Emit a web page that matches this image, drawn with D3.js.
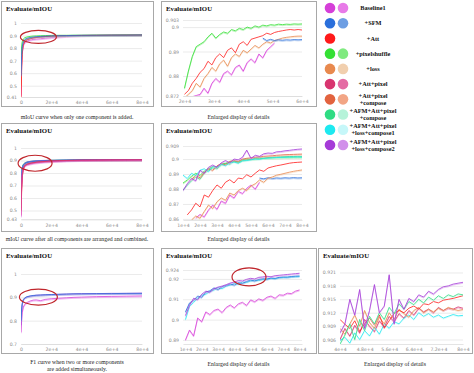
<!DOCTYPE html>
<html><head><meta charset="utf-8">
<script src="https://cdn.jsdelivr.net/npm/d3@7"></script>
<style>
html,body{margin:0;padding:0;background:#fff;}
svg{display:block;}
</style></head>
<body>
<svg id="chart" width="474" height="373"></svg>
<script>
// ---------------- DATA ----------------
const legendNames = [["Baseline1"],["+SFM"],["+Att"],["+pixelshuffle"],["+loss"],["+Att+pixel"],["+Att+pixel","+compose"],["+AFM+Att+pixel","+compose"],["+AFM+Att+pixel","+loss+compose1"],["+AFM+Att+pixel","+loss+compose2"]];
const captions = [["mIoU curve when only one component is added."],["Enlarged display of details"],["mIoU curve after all components are arranged and combined."],["Enlarged display of details"],["F1 curve when two or more components","are added simultaneously."],["Enlarged display of details"],["Enlarged display of details"]];
const panelTitle = "Evaluate/mIOU";

// full-view x steps
const stepsFull = [0,400,800,1500,2500,4000,6000,8000,10000,13000,16000,20000,25000,30000,35000,40000,50000,60000,70000,80000];
const xTicksFull = [0,20000,40000,60000,80000];
const xLabelsFull = ["0","2e+4","4e+4","6e+4","8e+4"];

// Panel A: one component added (full view)
const aBaseline = [0.42,0.66,0.77,0.82,0.845,0.856,0.864,0.869,0.872,0.875,0.879,0.884,0.889,0.893,0.896,0.898,0.9,0.901,0.902,0.902];
const aSFM      = [0.58,0.74,0.81,0.85,0.868,0.878,0.884,0.888,0.891,0.893,0.895,0.897,0.899,0.9,0.901,0.902,0.903,0.904,0.904,0.905];
const aAtt      = [0.36,0.61,0.75,0.825,0.852,0.866,0.874,0.88,0.884,0.888,0.892,0.895,0.898,0.899,0.9,0.901,0.902,0.903,0.903,0.904];
const aPixel    = [0.74,0.81,0.85,0.872,0.883,0.889,0.893,0.896,0.897,0.899,0.9,0.901,0.902,0.902,0.903,0.903,0.904,0.904,0.905,0.905];
const aLoss     = [0.5,0.69,0.79,0.84,0.862,0.872,0.878,0.883,0.886,0.889,0.891,0.893,0.896,0.898,0.899,0.9,0.901,0.902,0.903,0.903];
const aYTicks = [1,0.9,0.8,0.7,0.6,0.5,0.41];
const aYLabels = ["1","0.9","0.8","0.7","0.6","0.5","0.41"];

// Panel B: enlarged (x from 20000, step 1333.33)
const bStart = 20000, bStep = 4000/3;
const bPixel = [0.875,0.882,0.888,0.892,0.893,0.894,0.896,0.8975,0.8955,0.897,0.898,0.8975,0.899,0.8985,0.8995,0.899,0.9,0.8995,0.9005,0.9,0.9008,0.9005,0.901,0.9008,0.9012,0.901,0.9012,0.9011,0.9013,0.9012,0.9013];
const bAtt   = [0.8725,0.874,0.877,0.879,0.8815,0.883,0.886,0.8845,0.8875,0.889,0.8875,0.8905,0.8915,0.8895,0.893,0.894,0.8925,0.895,0.8955,0.896,0.8965,0.8975,0.897,0.8978,0.8982,0.8985,0.8988,0.899,0.8988,0.899,0.8988];
const bLoss  = [0.871,0.8725,0.874,0.877,0.8755,0.879,0.881,0.8835,0.882,0.885,0.8865,0.884,0.8875,0.889,0.888,0.8905,0.8895,0.891,0.8925,0.8915,0.893,0.894,0.8935,0.8945,0.895,0.8955,0.8958,0.896,0.8962,0.8963,0.8963];
const bBaseline = [0.8715,0.872,0.8725,0.875,0.873,0.877,0.879,0.8775,0.881,0.882,0.8805,0.8835,0.8845,0.882,0.8855,0.887,0.8855,0.889,0.8875,0.8905,0.892,0.8935];
const bBaselineFrom = 2;
const bSFM = [0.8955,0.8945,0.895,0.8945,0.8948,0.8946,0.8948,0.8947,0.8949,0.8948,0.8949];
const bSFMFrom = 20;
const bYTicks = [0.9029,0.9,0.89,0.88,0.8718];
const bYLabels = ["0.903","0.9","0.89","0.88","0.872"];
const bXTicks = [20000,30000,40000,50000,60000];
const bXLabels = ["2e+4","3e+4","4e+4","5e+4","6e+4"];

// Panel C: all components (full view)
const cBaseline = [0.45,0.7,0.79,0.835,0.855,0.866,0.872,0.877,0.881,0.885,0.888,0.891,0.894,0.897,0.899,0.9,0.902,0.903,0.903,0.904];
const cSFM      = [0.6,0.76,0.83,0.862,0.875,0.884,0.889,0.892,0.894,0.896,0.898,0.899,0.901,0.902,0.903,0.904,0.905,0.905,0.906,0.906];
const cAtt      = [0.46,0.64,0.76,0.83,0.855,0.868,0.876,0.881,0.885,0.889,0.892,0.895,0.898,0.9,0.901,0.902,0.903,0.904,0.904,0.905];
const cPixel    = [0.7,0.8,0.845,0.87,0.881,0.888,0.892,0.895,0.897,0.899,0.9,0.901,0.902,0.903,0.904,0.904,0.905,0.905,0.906,0.906];
const cLoss     = [0.55,0.72,0.8,0.845,0.865,0.876,0.883,0.887,0.89,0.893,0.895,0.897,0.899,0.9,0.901,0.902,0.903,0.904,0.904,0.905];
const cAttPix   = [0.5,0.68,0.78,0.836,0.86,0.871,0.878,0.883,0.887,0.89,0.893,0.896,0.898,0.9,0.901,0.902,0.903,0.904,0.905,0.905];
const cAttPixC  = [0.52,0.71,0.8,0.848,0.868,0.878,0.885,0.889,0.892,0.895,0.897,0.899,0.9,0.901,0.902,0.903,0.904,0.905,0.905,0.906];
const cAfm      = [0.62,0.77,0.83,0.86,0.876,0.885,0.89,0.893,0.896,0.898,0.9,0.901,0.902,0.903,0.904,0.904,0.905,0.906,0.906,0.906];
const cComp1    = [0.66,0.79,0.84,0.866,0.879,0.887,0.892,0.895,0.897,0.899,0.9,0.901,0.902,0.903,0.904,0.905,0.905,0.906,0.906,0.907];
const cComp2    = [0.6,0.77,0.835,0.865,0.879,0.888,0.893,0.896,0.898,0.9,0.901,0.902,0.903,0.904,0.905,0.906,0.906,0.907,0.907,0.907];
const cYTicks = [1,0.9,0.8,0.7,0.6,0.5,0.43];
const cYLabels = ["1","0.9","0.8","0.7","0.6","0.5","0.43"];

// Panel D: enlarged (x from 10000, step 2500)
const dStart = 10000, dStep = 2500;
const dComp2 = [0.879,0.8835,0.887,0.8855,0.8925,0.8905,0.8945,0.896,0.8945,0.8975,0.899,0.8975,0.9,0.8995,0.9012,0.906,0.9005,0.9025,0.9018,0.9035,0.904,0.9038,0.9048,0.905,0.9055,0.9058,0.9062,0.9065,0.9067];
const dComp1 = [0.8893,0.887,0.8905,0.889,0.8925,0.8935,0.8915,0.895,0.8945,0.8965,0.8955,0.8975,0.898,0.8972,0.8988,0.899,0.8995,0.9,0.8998,0.9005,0.9006,0.9008,0.901,0.9011,0.9012,0.9013,0.9013,0.9014,0.9013];
const dAfm   = [0.8793,0.8825,0.8855,0.888,0.8865,0.8905,0.8925,0.894,0.8935,0.896,0.897,0.8965,0.8985,0.898,0.8995,0.9,0.8998,0.9005,0.9008,0.9006,0.901,0.9012,0.9014,0.9015,0.9016,0.9017,0.9017,0.9018,0.9018];
const dPixel = [0.884,0.886,0.8885,0.8905,0.889,0.892,0.8935,0.895,0.8945,0.8965,0.8972,0.898,0.8985,0.8978,0.899,0.8995,0.8998,0.9,0.9003,0.9004,0.9006,0.9007,0.9008,0.9009,0.901,0.901,0.9011,0.9011,0.9012];
const dAttPixC = [0.8865,0.889,0.8875,0.891,0.8935,0.8925,0.8955,0.897,0.8962,0.8985,0.899,0.8985,0.9,0.9005,0.9008,0.9012,0.9015,0.9018,0.902,0.9022,0.9025,0.9027,0.9029,0.903,0.9031,0.9032,0.9033];
const dAttPixCFrom = 2;
const dAtt = [0.8627,0.866,0.8705,0.868,0.876,0.8745,0.879,0.8827,0.8805,0.8845,0.8862,0.884,0.8873,0.8868,0.8895,0.888,0.8905,0.8927,0.8918,0.894,0.8948,0.8955,0.896,0.8966,0.8972,0.8976,0.8978,0.898];
const dAttFrom = 1;
const dLoss = [0.8593,0.862,0.8605,0.865,0.8693,0.867,0.8715,0.874,0.8725,0.8773,0.876,0.879,0.8805,0.879,0.882,0.8835,0.886,0.8845,0.8872,0.888,0.8892,0.8898,0.8905,0.8912,0.8918,0.8923,0.8927];
const dLossFrom = 2;
const dBaseline = [0.8607,0.863,0.8615,0.866,0.8693,0.8665,0.872,0.8705,0.876,0.874,0.8785,0.877,0.8805,0.8827,0.88,0.8845];
const dBaselineFrom = 3;
const dSFM = [0.8873,0.8868,0.8875,0.887,0.8874,0.8872,0.8875,0.8873,0.8876,0.8874,0.8875];
const dSFMFrom = 18;
const dYTicks = [0.9087,0.9,0.89,0.88,0.87,0.86];
const dYLabels = ["0.909","0.9","0.89","0.88","0.87","0.86"];
const xTicks8 = [10000,20000,30000,40000,50000,60000,70000,80000];
const xLabels8 = ["1e+4","2e+4","3e+4","4e+4","5e+4","6e+4","7e+4","8e+4"];

// Panel E: F1 two or more components (full view)
const eComp1    = [0.8,0.85,0.875,0.89,0.898,0.903,0.906,0.908,0.909,0.91,0.911,0.912,0.913,0.914,0.915,0.915,0.916,0.916,0.917,0.917];
const eComp2    = [0.78,0.84,0.868,0.888,0.897,0.902,0.905,0.907,0.909,0.91,0.911,0.912,0.913,0.914,0.915,0.916,0.916,0.917,0.917,0.918];
const eBaseline = [0.75,0.8,0.835,0.858,0.87,0.878,0.884,0.888,0.889,0.886,0.891,0.894,0.896,0.898,0.9,0.901,0.903,0.904,0.905,0.906];
const eYTicks = [1,0.9,0.8,0.7];
const eYLabels = ["1","0.9","0.8","0.7"];

// Panel F: enlarged (x from 10000, step 2500)
const fSFM  = [0.9038,0.9082,0.9095,0.9116,0.911,0.9136,0.9142,0.9156,0.9148,0.9162,0.9168,0.9175,0.917,0.9182,0.9178,0.9188,0.9195,0.919,0.9198,0.9201,0.9199,0.9205,0.9203,0.9208,0.921,0.9209,0.9212,0.9214,0.9215];
const fComp1 = [0.9,0.9065,0.9085,0.9105,0.912,0.9125,0.9138,0.9145,0.9158,0.9152,0.9165,0.917,0.9178,0.9173,0.9185,0.9183,0.919,0.9194,0.9192,0.9198,0.92,0.9203,0.9201,0.9206,0.9207,0.9209,0.921,0.9211,0.9212];
const fComp2 = [0.902,0.907,0.9105,0.9098,0.9125,0.914,0.9135,0.9152,0.916,0.9165,0.9172,0.918,0.9185,0.9192,0.919,0.9198,0.9203,0.92,0.9208,0.921,0.9213,0.9211,0.9216,0.9218,0.922,0.9222,0.9224,0.9226,0.9228];
const fBaseline = [0.89,0.8949,0.892,0.9008,0.899,0.9038,0.9025,0.9045,0.9052,0.9035,0.906,0.9072,0.9058,0.9078,0.9085,0.907,0.9097,0.9088,0.9102,0.9095,0.911,0.9116,0.9105,0.9122,0.912,0.913,0.9128,0.914,0.9146];
const fYTicks = [0.9244,0.92,0.91,0.9,0.89];
const fYLabels = ["0.924","0.92","0.91","0.9","0.89"];

// Panel G: enlarged (x from 40000, step 1600)
const gStart = 40000, gStep = 1600;
const gComp2 = [0.9075,0.9095,0.915,0.9115,0.9172,0.9085,0.9125,0.9183,0.912,0.9135,0.9205,0.9095,0.915,0.9128,0.9152,0.9145,0.916,0.9155,0.9168,0.9162,0.9172,0.9178,0.918,0.9184,0.9186,0.9188];
const gAfm   = [0.905,0.907,0.9095,0.906,0.9105,0.908,0.9112,0.9095,0.912,0.9105,0.9132,0.9118,0.914,0.9128,0.9145,0.9138,0.915,0.9142,0.9155,0.9148,0.9158,0.9152,0.916,0.9156,0.9162,0.916];
const gAtt   = [0.9105,0.9094,0.9085,0.9102,0.9078,0.9095,0.9108,0.9092,0.9115,0.9085,0.9102,0.9118,0.9125,0.912,0.913,0.9135,0.9128,0.914,0.9138,0.9145,0.9142,0.9148,0.915,0.9152,0.9155,0.9158];
const gLoss  = [0.9085,0.9072,0.9095,0.9115,0.909,0.9125,0.9098,0.9085,0.911,0.9095,0.912,0.9105,0.9128,0.9118,0.911,0.9125,0.9132,0.912,0.9128,0.9122,0.913,0.9125,0.9132,0.9128,0.9125,0.9127];
const gComp1 = [0.9058,0.9065,0.9052,0.9075,0.906,0.908,0.9068,0.9088,0.9072,0.9095,0.9085,0.91,0.9095,0.9108,0.9115,0.9105,0.912,0.9112,0.9118,0.911,0.9115,0.9108,0.9112,0.9116,0.9113,0.9114];
const gAttPix = [0.906,0.9085,0.9068,0.9092,0.9075,0.9105,0.909,0.9078,0.9102,0.9088,0.9112,0.91,0.9118,0.9108,0.9125,0.9115,0.913,0.9122,0.9128,0.912,0.9132,0.9125,0.913,0.9128,0.9133,0.913];
const gYTicks = [0.921,0.918,0.915,0.912,0.909,0.906];
const gYLabels = ["0.921","0.918","0.915","0.912","0.909","0.906"];
const gXTicks = [40000,48000,56000,64000,72000,80000];
const gXLabels = ["4e+4","4.8e+4","5.6e+4","6.4e+4","7.2e+4","8e+4"];

// ---------------- STYLE ----------------
const COL = {
  base:["#d53fd8","#e87ae8"], sfm:["#2a6fdb","#6d9ee3"], att:["#ff1a1a",null],
  pix:["#34e034","#80ea80"], loss:["#e8894e","#f1cfae"], attpix:["#d8356f","#e46ba3"],
  attpixc:["#e2633f","#f2a585"], afm:["#2fdc83","#b6f3d9"], c1:["#1de9f0","#c6f7f9"], c2:["#a53bd8","#d190ea"]
};
const legendKeys = ["base","sfm","att","pix","loss","attpix","attpixc","afm","c1","c2"];

const svg = d3.select("#chart");
const SERIF = "'Liberation Serif','Times New Roman',serif";
const SANS = "'DejaVu Sans',sans-serif";

function fullSeries(vals){ return vals.map((v,i)=>({x:stepsFull[i], y:v})); }
function regSeries(vals, start, step, from){ from = from||0; return vals.map((v,i)=>({x:start+(from+i)*step, y:v})); }

let clipId = 0;
function drawPanel(cfg){
  const g = svg.append("g");
  const b = cfg.box;
  g.append("rect").attr("x",b.x+0.5).attr("y",b.y+0.5).attr("width",b.w).attr("height",b.h)
    .attr("fill","#fff").attr("stroke","#a8a8a8").attr("stroke-width",1);
  g.append("text").attr("x",b.x+5).attr("y",b.y+10).text(panelTitle)
    .attr("font-family",SERIF).attr("font-weight","bold").attr("font-size",6.8).attr("fill","#111");
  const x = d3.scaleLinear().domain(cfg.xDomain).range([cfg.px[0],cfg.px[1]]);
  const y = d3.scaleLinear().domain(cfg.yDomain).range([cfg.py[1],cfg.py[0]]);
  const w = cfg.px[1]-cfg.px[0];
  const ya = g.append("g").attr("transform",`translate(${cfg.px[0]},0)`)
    .call(d3.axisLeft(y).tickValues(cfg.yTicks).tickFormat((d,i)=>cfg.yLabels[i]).tickSize(-w).tickPadding(4));
  ya.select(".domain").remove();
  ya.selectAll("line").attr("stroke","#e3e3e3").attr("stroke-width",0.7);
  ya.selectAll("text").attr("font-family",SANS).attr("font-size",4.6).attr("fill","#8a8a8a");
  const xa = g.append("g").attr("transform",`translate(0,${cfg.py[1]})`)
    .call(d3.axisBottom(x).tickValues(cfg.xTicks).tickFormat((d,i)=>cfg.xLabels[i]).tickSize(0).tickPadding(4));
  xa.select(".domain").attr("stroke","#d8d8d8").attr("stroke-width",0.7);
  xa.selectAll("text").attr("font-family",SANS).attr("font-size",4.6).attr("fill","#8a8a8a");
  const id = "clip"+(clipId++);
  g.append("clipPath").attr("id",id).append("rect")
    .attr("x",cfg.px[0]).attr("y",cfg.py[0]-3).attr("width",w+2).attr("height",cfg.py[1]-cfg.py[0]+3);
  const lg = g.append("g").attr("clip-path",`url(#${id})`);
  const line = d3.line().x(d=>x(d.x)).y(d=>y(d.y));
  cfg.series.forEach(s=>{
    const c = COL[s.key];
    if(c[1]) lg.append("path").datum(s.data).attr("d",line).attr("fill","none")
      .attr("stroke",c[1]).attr("stroke-width",1.0).attr("stroke-opacity",0.5).attr("transform","translate(0,1)");
    lg.append("path").datum(s.data).attr("d",line).attr("fill","none")
      .attr("stroke",c[0]).attr("stroke-width",s.w||0.8).attr("stroke-linejoin","round");
  });
  if(cfg.ellipse){
    const e = cfg.ellipse;
    g.append("ellipse").attr("cx",x(e.x)).attr("cy",y(e.y)).attr("rx",e.rx).attr("ry",e.ry)
      .attr("fill","none").attr("stroke","#c0262c").attr("stroke-width",1.2);
  }
  const cap = cfg.caption;
  cap.lines.forEach((t,i)=>{
    g.append("text").attr("x",b.x+b.w/2).attr("y",cap.y+i*7).attr("text-anchor","middle").text(t)
      .attr("font-family",SERIF).attr("font-size",5.8).attr("fill","#222");
  });
}

const boxA={x:1,y:1,w:152,h:105}, boxB={x:161,y:1,w:155,h:105};
const boxC={x:1,y:123,w:152,h:108}, boxD={x:161,y:123,w:155,h:108};
const boxE={x:1,y:248,w:152,h:105}, boxF={x:161,y:248,w:155,h:105}, boxG={x:318,y:248,w:154,h:105};

drawPanel({box:boxA, px:[21,142], py:[23,97], xDomain:[0,80000], yDomain:[0.41,1.0],
  yTicks:aYTicks, yLabels:aYLabels, xTicks:xTicksFull, xLabels:xLabelsFull,
  series:[{key:"base",data:fullSeries(aBaseline)},{key:"loss",data:fullSeries(aLoss)},{key:"pix",data:fullSeries(aPixel)},
          {key:"att",data:fullSeries(aAtt)},{key:"sfm",data:fullSeries(aSFM)}],
  ellipse:{x:11500,y:0.889,rx:18,ry:6.5}, caption:{lines:captions[0],y:119}});

drawPanel({box:boxB, px:[183,302], py:[20,96], xDomain:[19500,60000], yDomain:[0.8718,0.9029],
  yTicks:bYTicks, yLabels:bYLabels, xTicks:bXTicks, xLabels:bXLabels,
  series:[{key:"base",data:regSeries(bBaseline,bStart,bStep,bBaselineFrom)},{key:"loss",data:regSeries(bLoss,bStart,bStep)},
          {key:"att",data:regSeries(bAtt,bStart,bStep)},{key:"sfm",data:regSeries(bSFM,bStart,bStep,bSFMFrom)},
          {key:"pix",data:regSeries(bPixel,bStart,bStep)}],
  caption:{lines:captions[1],y:119}});

drawPanel({box:boxC, px:[21,142], py:[148,219.25], xDomain:[0,80000], yDomain:[0.43,1.0],
  yTicks:cYTicks, yLabels:cYLabels, xTicks:xTicksFull, xLabels:xLabelsFull,
  series:[{key:"pix",data:fullSeries(cPixel)},{key:"loss",data:fullSeries(cLoss)},{key:"afm",data:fullSeries(cAfm)},
          {key:"c1",data:fullSeries(cComp1)},{key:"attpixc",data:fullSeries(cAttPixC)},{key:"c2",data:fullSeries(cComp2)},
          {key:"sfm",data:fullSeries(cSFM)},{key:"att",data:fullSeries(cAtt)},{key:"base",data:fullSeries(cBaseline)},
          {key:"attpix",data:fullSeries(cAttPix)}],
  ellipse:{x:9300,y:0.878,rx:17,ry:8}, caption:{lines:captions[2],y:241}});

drawPanel({box:boxD, px:[183,302], py:[146,220], xDomain:[10000,80000], yDomain:[0.8593,0.9087],
  yTicks:dYTicks, yLabels:dYLabels, xTicks:xTicks8, xLabels:xLabels8,
  series:[{key:"base",data:regSeries(dBaseline,dStart,dStep,dBaselineFrom)},{key:"sfm",data:regSeries(dSFM,dStart,dStep,dSFMFrom)},
          {key:"loss",data:regSeries(dLoss,dStart,dStep,dLossFrom)},{key:"att",data:regSeries(dAtt,dStart,dStep,dAttFrom)},
          {key:"pix",data:regSeries(dPixel,dStart,dStep)},{key:"afm",data:regSeries(dAfm,dStart,dStep)},
          {key:"attpixc",data:regSeries(dAttPixC,dStart,dStep,dAttPixCFrom)},{key:"c1",data:regSeries(dComp1,dStart,dStep)},
          {key:"c2",data:regSeries(dComp2,dStart,dStep)}],
  caption:{lines:captions[3],y:241}});

drawPanel({box:boxE, px:[21,142], py:[274,344], xDomain:[0,80000], yDomain:[0.7,1.0],
  yTicks:eYTicks, yLabels:eYLabels, xTicks:xTicksFull, xLabels:xLabelsFull,
  series:[{key:"base",data:fullSeries(eBaseline)},{key:"c2",data:fullSeries(eComp2)},{key:"sfm",data:fullSeries(eComp1)}],
  ellipse:{x:11500,y:0.901,rx:19,ry:8}, caption:{lines:captions[4],y:364}});

drawPanel({box:boxF, px:[183,302], py:[270,344], xDomain:[8500,81500], yDomain:[0.888,0.9244],
  yTicks:fYTicks, yLabels:fYLabels, xTicks:xTicks8, xLabels:xLabels8,
  series:[{key:"base",data:regSeries(fBaseline,dStart,dStep)},{key:"c1",data:regSeries(fComp1,dStart,dStep)},
          {key:"sfm",data:regSeries(fSFM,dStart,dStep)},{key:"c2",data:regSeries(fComp2,dStart,dStep)}],
  ellipse:{x:49000,y:0.921,rx:17,ry:9}, caption:{lines:captions[5],y:366}});

drawPanel({box:boxG, px:[340,463], py:[268,344], xDomain:[40000,80000], yDomain:[0.905,0.922],
  yTicks:gYTicks, yLabels:gYLabels, xTicks:gXTicks, xLabels:gXLabels,
  series:[{key:"attpix",data:regSeries(gAttPix,gStart,gStep)},{key:"c1",data:regSeries(gComp1,gStart,gStep)},
          {key:"loss",data:regSeries(gLoss,gStart,gStep)},{key:"att",data:regSeries(gAtt,gStart,gStep)},
          {key:"afm",data:regSeries(gAfm,gStart,gStep)},{key:"c2",data:regSeries(gComp2,gStart,gStep)}],
  caption:{lines:captions[6],y:366}});

// ---------------- LEGEND ----------------
const legY = d3.scalePoint().domain(d3.range(legendNames.length)).range([8,145]);
const lg = svg.append("g");
legendNames.forEach((lines,i)=>{
  const cy = legY(i), c = COL[legendKeys[i]];
  lg.append("circle").attr("cx",330).attr("cy",cy).attr("r",5.3).attr("fill",c[0]);
  if(c[1]) lg.append("circle").attr("cx",343).attr("cy",cy).attr("r",5.3).attr("fill",c[1]);
  lines.forEach((t,j)=>{
    const ty = cy + 2.2 + (j - (lines.length-1)/2)*7;
    lg.append("text").attr("x",373).attr("y",ty).attr("text-anchor","middle").text(t)
      .attr("font-family",SERIF).attr("font-weight","bold").attr("font-size",6.3).attr("fill","#111");
  });
});
</script>
</body></html>
